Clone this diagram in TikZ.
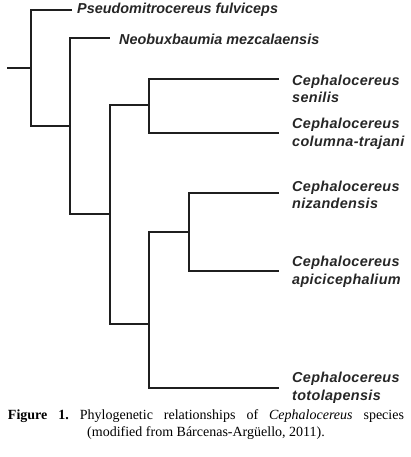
\documentclass[tikz,border=0pt]{standalone}
\usepackage{fontspec}
\setmainfont{Liberation Serif}
\newfontfamily\labfont{Liberation Sans}
\newfontfamily\labfontsp[LetterSpace=2.4]{Liberation Sans}
\begin{document}
\begin{tikzpicture}[x=1pt,y=-1pt,
  br/.style={line width=1.9pt, color=black!88},
  taxon/.style={anchor=west, inner sep=0pt, align=left, text=black!85,
    font=\labfont\bfseries\itshape\fontsize{14.4}{17.5}\selectfont},
  taxonsp/.style={taxon, font=\labfontsp\bfseries\itshape\fontsize{14.4}{17.5}\selectfont},
  captxt/.style={inner sep=0pt, font=\frenchspacing\fontsize{14}{17}\selectfont}]
\useasboundingbox (0,0) rectangle (411,457);
% internal nodes
\coordinate (stub) at (7,68);
\coordinate (root) at (31,68);
\coordinate (n2) at (70,126);
\coordinate (n3) at (110,214);
\coordinate (n4) at (149,105);
\coordinate (n5) at (149,324);
\coordinate (n6) at (189,232);
% leaves
\coordinate (lpse) at (72,10);
\coordinate (lneo) at (110,38);
\coordinate (lsen) at (279,79);
\coordinate (lcol) at (279,133);
\coordinate (lniz) at (279,193);
\coordinate (lapi) at (279,271);
\coordinate (ltot) at (279,388);
% branches
\draw[br] (stub) -- (root);
\draw[br] (root) |- (lpse);
\draw[br] (root) |- (n2);
\draw[br] (n2) |- (lneo);
\draw[br] (n2) |- (n3);
\draw[br] (n3) |- (n4);
\draw[br] (n3) |- (n5);
\draw[br] (n4) |- (lsen);
\draw[br] (n4) |- (lcol);
\draw[br] (n5) |- (n6);
\draw[br] (n5) |- (ltot);
\draw[br] (n6) |- (lniz);
\draw[br] (n6) |- (lapi);
% labels
\node[taxon] (tpse) at (77,10) {Pseudomitrocereus fulviceps};
\node[taxon] (tneo) at (119,39) {Neobuxbaumia mezcalaensis};
\node[taxonsp] (tsen) at (292,89) {Cephalocereus\\senilis};
\node[taxonsp] (tcol) at (292,134) {Cephalocereus\\columna-trajani};
\node[taxonsp] (tniz) at (292,195) {Cephalocereus\\nizandensis};
\node[taxonsp] (tapi) at (292,272) {Cephalocereus\\apicicephalium};
\node[taxonsp] (ttot) at (292,388) {Cephalocereus\\totolapensis};
% caption
\node[captxt] (cap1) at (206,416) {\makebox[396pt][s]{\textbf{Figure 1.} Phylogenetic relationships of \textit{Cephalocereus} species}};
\node[captxt] (cap2) at (206,433) {(modified from Bárcenas-Argüello, 2011).};
\end{tikzpicture}
\end{document}
